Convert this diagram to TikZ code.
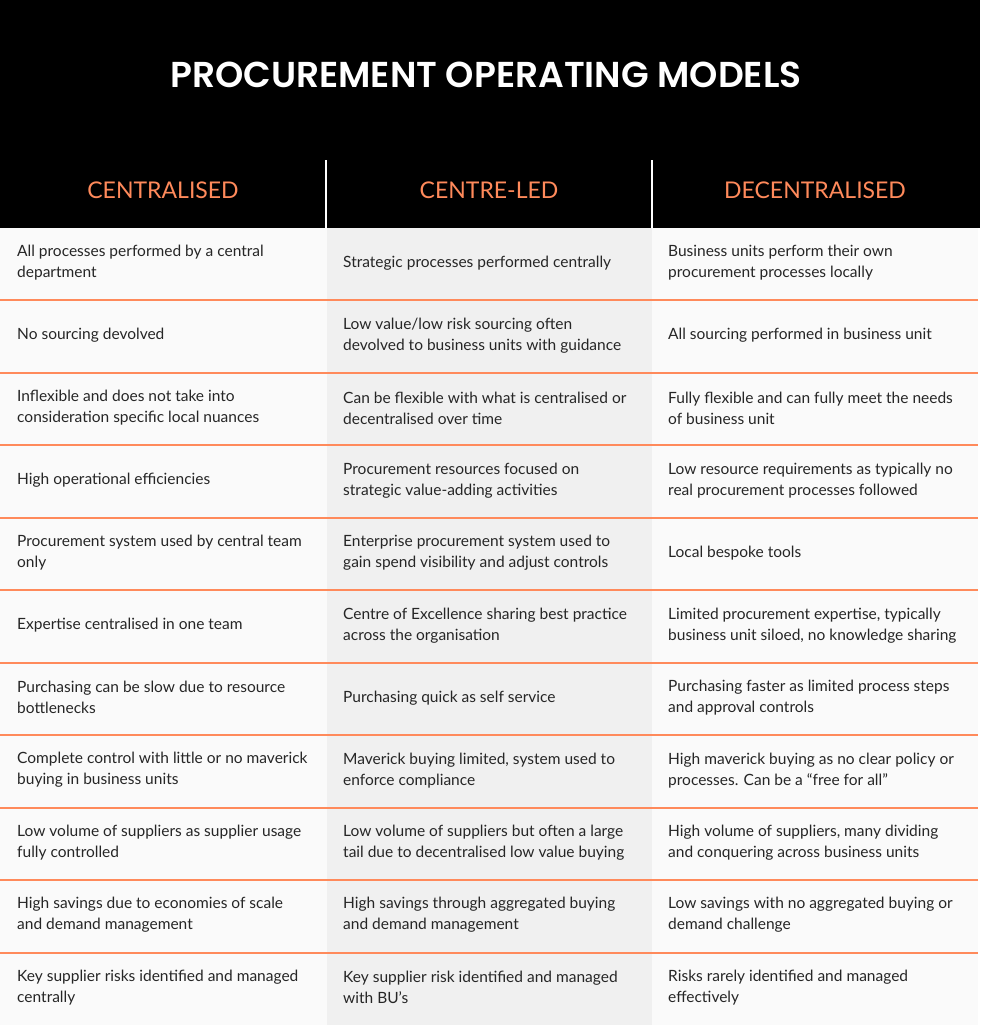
\documentclass[tikz,border=0pt]{standalone}
\usepackage{fontspec}
\setmainfont{Lato}
\newfontfamily\titlefont{Poppins SemiBold}
\definecolor{org}{HTML}{FF8A5B}
\definecolor{midg}{HTML}{F0F0F0}
\definecolor{sideg}{HTML}{FAFAFA}
\begin{document}
\begin{tikzpicture}[x=1pt,y=-1pt,
  cell/.style={anchor=west,align=left,font=\fontsize{15.5}{21}\selectfont,inner sep=0pt,text=black!85},
  colhead/.style={text=org,font=\fontsize{23}{26}\selectfont}]
\useasboundingbox (0,0) rectangle (980,1028);
\fill[white] (0,0) rectangle (980,1028);
\fill[black] (0,0) rectangle (980,228);
\fill[sideg] (0,228) rectangle (978,1025);
\fill[midg] (327,228) rectangle (652,1025);
\draw[white,line width=1.5] (326,160) -- (326,228) (652,160) -- (652,228);
\node[text=white,font=\titlefont\fontsize{36}{40}\selectfont] (title) at (486,75) {PROCUREMENT OPERATING MODELS};
\node[colhead] (h1) at (163,190) {CENTRALISED};
\node[colhead] (h2) at (489,190) {CENTRE-LED};
\node[colhead] (h3) at (815,190) {DECENTRALISED};
\foreach \a/\b/\c [count=\i from 0] in {
{All processes performed by a central\\department}/{Strategic processes performed centrally}/{Business units perform their own\\procurement processes locally},
{No sourcing devolved}/{Low value/low risk sourcing often\\devolved to business units with guidance}/{All sourcing performed in business unit},
{Inflexible and does not take into\\consideration specific local nuances}/{Can be flexible with what is centralised or\\decentralised over time}/{Fully flexible and can fully meet the needs\\of business unit},
{High operational efficiencies}/{Procurement resources focused on\\strategic value-adding activities}/{Low resource requirements as typically no\\real procurement processes followed},
{Procurement system used by central team\\only}/{Enterprise procurement system used to\\gain spend visibility and adjust controls}/{Local bespoke tools},
{Expertise centralised in one team}/{Centre of Excellence sharing best practice\\across the organisation}/{Limited procurement expertise, typically\\business unit siloed, no knowledge sharing},
{Purchasing can be slow due to resource\\bottlenecks}/{Purchasing quick as self service}/{Purchasing faster as limited process steps\\and approval controls},
{Complete control with little or no maverick\\buying in business units}/{Maverick buying limited, system used to\\enforce compliance}/{High maverick buying as no clear policy or\\processes. Can be a “free for all”},
{Low volume of suppliers as supplier usage\\fully controlled}/{Low volume of suppliers but often a large\\tail due to decentralised low value buying}/{High volume of suppliers, many dividing\\and conquering across business units},
{High savings due to economies of scale\\and demand management}/{High savings through aggregated buying\\and demand management}/{Low savings with no aggregated buying or\\demand challenge},
{Key supplier risks identified and managed\\centrally}/{Key supplier risk identified and managed\\with BU’s}/{Risks rarely identified and managed\\effectively}}
{
  \pgfmathsetmacro\yc{228+72.45*\i+35}
  \node[cell] (a\i) at (17,\yc) {\a};
  \node[cell] (b\i) at (343,\yc) {\b};
  \node[cell] (c\i) at (668,\yc) {\c};
  \ifnum\i<10
    \pgfmathsetmacro\yl{228+72.45*(\i+1)}
    \draw[org,line width=2] (0,\yl) -- (978,\yl);
  \fi
}
\end{tikzpicture}
\end{document}
